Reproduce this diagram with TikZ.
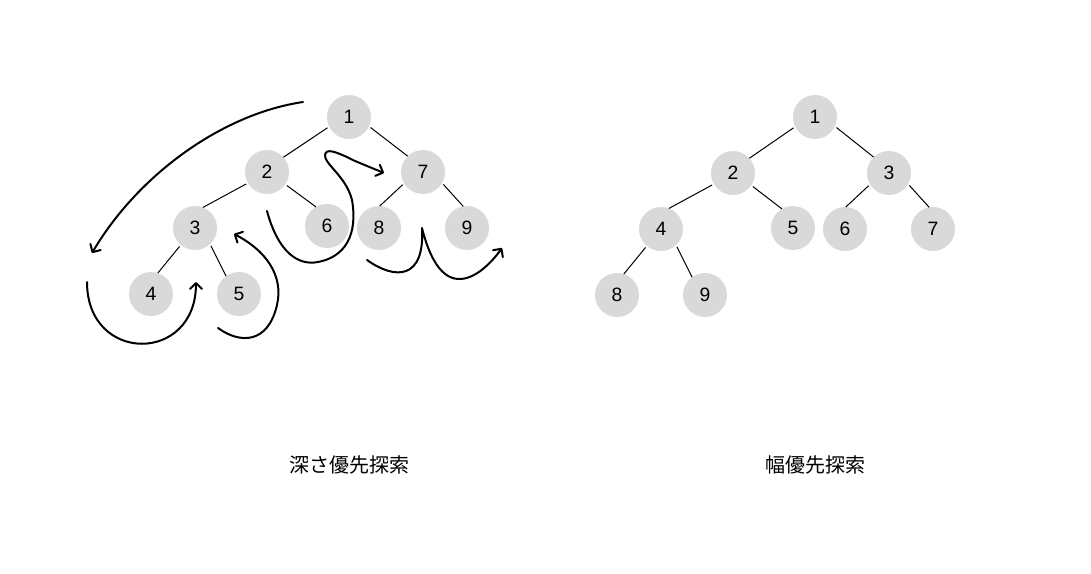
\documentclass[tikz,border=0pt]{standalone}
\usepackage{fontspec}
\setmainfont{Liberation Sans}
\newfontfamily\jpfont{Noto Sans CJK JP}
\usetikzlibrary{arrows.meta}
\definecolor{nodegray}{HTML}{D9D9D9}
\begin{document}
\begin{tikzpicture}[x=0.75pt,y=-0.75pt,
  vertex/.style={circle,fill=nodegray,minimum size=33pt,inner sep=0pt,outer sep=0pt,
    font=\fontsize{14.5}{17}\selectfont},
  edge/.style={line width=0.75pt,shorten <=1.5pt},
  walk/.style={line width=1.5pt,line cap=round,line join=round,
    -{Straight Barb[length=4.5pt,width=9pt,line cap=round,line join=round]}},
  caption/.style={font=\jpfont\fontsize{15}{18}\selectfont}]
\useasboundingbox (0,0) rectangle (1091,574);

% ---------- depth-first tree ----------
\node[vertex] (L1) at (349,117) {1};
\node[vertex] (L2) at (267,172) {2};
\node[vertex] (L7) at (423,172) {7};
\node[vertex] (L3) at (195,228) {3};
\node[vertex] (L6) at (327,226) {6};
\node[vertex] (L8) at (379,228) {8};
\node[vertex] (L9) at (467,228) {9};
\node[vertex] (L4) at (151,294) {4};
\node[vertex] (L5) at (239,294) {5};

\draw[edge] (L1.206) -- (L2.42);
\draw[edge] (L1.335) -- (L7.134);
\draw[edge] (L2.210) -- (L3.69);
\draw[edge] (L2.326) -- (L6.120);
\draw[edge] (L7.211) -- (L8.88);
\draw[edge] (L7.330) -- (L9.100);
\draw[edge] (L3.230) -- (L4.72);
\draw[edge] (L3.313) -- (L5.126);

% traversal arrows
\coordinate (a1s) at (303,102);
\coordinate (a1e) at (92,253);
\draw[walk] (a1s) .. controls (222,114) and (138,175) .. (a1e);

\coordinate (a2s) at (87,282);
\coordinate (a2e) at (196,282);
\draw[walk] (a2s) .. controls (87,364) and (196,364) .. (a2e);

\coordinate (a3s) at (218,328);
\coordinate (a3e) at (234,234);
\draw[walk] (a3s) .. controls (240,344) and (268,344) .. (277,305)
  .. controls (284,275) and (265,250) .. (a3e);

\coordinate (a4s) at (267,211);
\coordinate (a4e) at (384,173);
\draw[walk] (a4s) .. controls (278,252) and (298,266) .. (318,262)
  .. controls (345,257) and (358,235) .. (352,200)
  .. controls (346,176) and (324,164) .. (325,155)
  .. controls (326,148) and (335,151) .. (355,161)
  -- (a4e);

\coordinate (a5s) at (367,260);
\coordinate (a5e) at (502,248);
\draw[walk] (a5s) .. controls (395,280) and (425,280) .. (422,228)
  .. controls (430,260) and (442,278) .. (458,279)
  .. controls (475,280) and (492,262) .. (a5e);

% ---------- breadth-first tree ----------
\node[vertex] (R1) at (815,117) {1};
\node[vertex] (R2) at (733,173) {2};
\node[vertex] (R3) at (889,173) {3};
\node[vertex] (R4) at (661,229) {4};
\node[vertex] (R5) at (793,228) {5};
\node[vertex] (R6) at (845,229) {6};
\node[vertex] (R7) at (933,229) {7};
\node[vertex] (R8) at (617,295) {8};
\node[vertex] (R9) at (705,295) {9};

\draw[edge] (R1.206) -- (R2.42);
\draw[edge] (R1.335) -- (R3.134);
\draw[edge] (R2.210) -- (R4.69);
\draw[edge] (R2.326) -- (R5.120);
\draw[edge] (R3.211) -- (R6.88);
\draw[edge] (R3.330) -- (R7.100);
\draw[edge] (R4.230) -- (R8.72);
\draw[edge] (R4.313) -- (R9.126);

% ---------- captions ----------
\node[caption] (capL) at (349.5,465) {深さ優先探索};
\node[caption] (capR) at (815,465) {幅優先探索};
\end{tikzpicture}
\end{document}
